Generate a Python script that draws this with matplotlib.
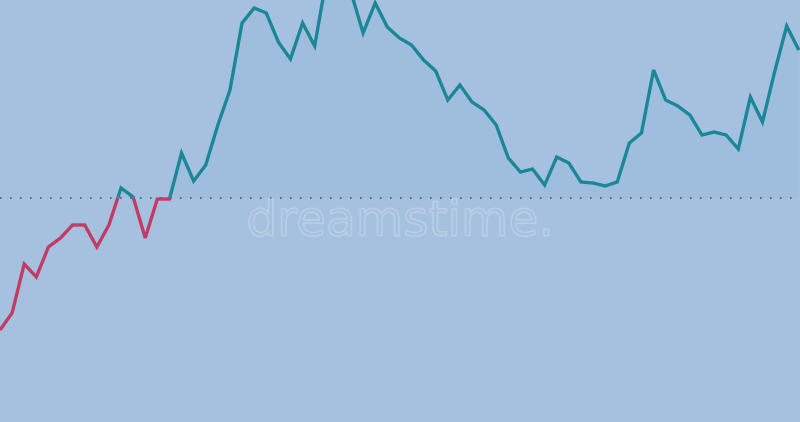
import numpy as np
import matplotlib
matplotlib.use("Agg")
import matplotlib.pyplot as plt
import matplotlib.patheffects as pe

# Price series, one value per period
periods = list(range(67))
prices = [49.2, 50.9, 55.8, 54.5, 57.5, 58.4, 59.7, 59.7, 57.5, 59.7,
          63.4, 62.5, 58.4, 62.3, 62.3, 66.9, 64.1, 65.7, 69.7, 73.2,
          79.9, 81.4, 80.9, 78.0, 76.3, 79.9, 77.6, 84.5, 84.2, 83.0,
          78.9, 81.9, 79.5, 78.4, 77.7, 76.2, 75.1, 72.2, 73.7, 72.0,
          71.2, 69.7, 66.4, 65.0, 65.3, 63.7, 66.5, 65.9, 64.0, 63.9,
          63.6, 64.0, 67.9, 68.9, 75.2, 72.2, 71.6, 70.7, 68.7, 69.0,
          68.7, 67.3, 72.5, 70.0, 75.0, 79.6, 77.2]
prev_close = 62.45
watermark = "dreamstime."

teal = "#1a8799"
red = "#c23b63"
bg = "#a6c1e0"

x = np.array(periods, dtype=float)
y = np.array(prices, dtype=float)

# insert crossing points with the reference level
xs, ys = [x[0]], [y[0]]
for i in range(1, len(x)):
    y0, y1 = y[i - 1] - prev_close, y[i] - prev_close
    if y0 * y1 < 0:
        t = y0 / (y0 - y1)
        xs.append(x[i - 1] + t * (x[i] - x[i - 1]))
        ys.append(prev_close)
    xs.append(x[i]); ys.append(y[i])
xs = np.array(xs); ys = np.array(ys)
eps = 1e-9
red_y = np.where(ys <= prev_close + eps, ys, np.nan)
teal_y = np.where(ys >= prev_close - eps, ys, np.nan)

fig = plt.figure(figsize=(8.0, 4.22), dpi=100)
fig.patch.set_facecolor(bg)
ax = fig.add_axes([0, 0, 1, 1])
ax.set_facecolor(bg)

ax.fill_between(xs, prev_close, ys, where=ys >= prev_close - eps,
                color="#2f7fa8", alpha=0.06, linewidth=0, interpolate=True)
ax.axhline(prev_close, color="#34485f", linestyle=(0, (1, 5)), linewidth=1.2, alpha=0.8)
ax.plot(xs, red_y, color=red, linewidth=2.4, solid_joinstyle="miter", solid_capstyle="butt")
ax.plot(xs, teal_y, color=teal, linewidth=2.4, solid_joinstyle="miter", solid_capstyle="butt")

t = ax.text(0.5, 0.475, watermark, transform=ax.transAxes, ha="center", va="center",
            fontsize=35, color=(1, 1, 1, 0.0), family="DejaVu Sans")
t.set_path_effects([pe.Stroke(linewidth=1.2, foreground=(1, 1, 1, 0.22)), pe.Normal()])

ax.set_xlim(0, 66.1)
ax.set_ylim(40.0, 82.2)
ax.axis("off")

fig.savefig("out.png", dpi=100, facecolor=bg)
